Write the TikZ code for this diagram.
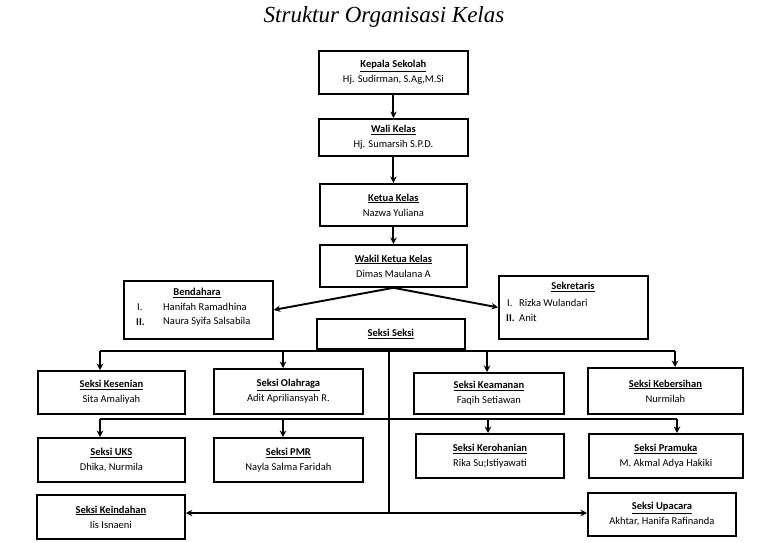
\documentclass[tikz,border=0pt]{standalone}
\usepackage{fontspec}
\setmainfont{Carlito}
\newfontfamily\titlefont{Liberation Serif}
\usetikzlibrary{arrows.meta}
\newcommand\hd[1]{\textbf{\underline{#1}}}
\begin{document}
\begin{tikzpicture}[x=1pt,y=-1pt,
  box/.style={draw, line width=1.8pt, fill=white, anchor=north west, inner sep=0pt,
    align=center, font=\fontsize{10.5}{15}\selectfont},
  txt/.style={inner sep=0pt, font=\fontsize{10.5}{12}\selectfont},
  conn/.style={line width=1.9pt},
  arr/.style={line width=1.9pt, -{Stealth[length=6.5pt,width=6.5pt]}},
]
\useasboundingbox (0,0) rectangle (768,543);
\node[font=\titlefont\itshape\fontsize{23}{23}\selectfont] (title) at (384,17) {Struktur Organisasi Kelas};

% main column
\node[box, minimum width=149pt, minimum height=43pt] (kepala) at (318,50) {\hd{Kepala Sekolah}\\Hj. Sudirman, S.Ag,M.Si};
\node[box, minimum width=149pt, minimum height=37pt] (wali) at (318,118) {\hd{Wali Kelas}\\Hj. Sumarsih S.P.D.};
\node[box, minimum width=147pt, minimum height=42pt] (ketua) at (319,183) {\hd{Ketua Kelas}\\Nazwa Yuliana};
\node[box, minimum width=147pt, minimum height=42pt] (wakil) at (319,244) {\hd{Wakil Ketua Kelas}\\Dimas Maulana A};

% bendahara / sekretaris
\node[box, minimum width=149pt, minimum height=58pt] (bendahara) at (123,280) {};
\node[txt] (bendh) at (197,293) {\hd{Bendahara}};
\node[txt, anchor=west] (bend1n) at (137,307) {I.};
\node[txt, anchor=west] (bend1) at (163,307) {Hanifah Ramadhina};
\node[txt, anchor=west] (bend2n) at (136,322) {\textbf{II.}};
\node[txt, anchor=west] (bend2) at (163,322) {Naura Syifa Salsabila};

\node[box, minimum width=149pt, minimum height=63pt] (sekretaris) at (498,275) {};
\node[txt] (sekh) at (573,287) {\hd{Sekretaris}};
\node[txt, anchor=west] (sek1n) at (507,303) {I.};
\node[txt, anchor=west] (sek1) at (519,303) {Rizka Wulandari};
\node[txt, anchor=west] (sek2n) at (506,318) {\textbf{II.}};
\node[txt, anchor=west] (sek2) at (519,318) {Anit};

\node[box, minimum width=148pt, minimum height=30pt] (seksi) at (316,318) {\hd{Seksi Seksi}};

% row 1
\node[box, minimum width=147pt, minimum height=43pt] (kesenian) at (37,370) {\hd{Seksi Kesenian}\\Sita Amaliyah};
\node[box, minimum width=149pt, minimum height=45pt] (olahraga) at (213,368) {\hd{Seksi Olahraga}\\Adit Apriliansyah R.};
\node[box, minimum width=150pt, minimum height=41pt] (keamanan) at (413,372) {\hd{Seksi Keamanan}\\Faqih Setiawan};
\node[box, minimum width=155pt, minimum height=46pt] (kebersihan) at (587,367) {\hd{Seksi Kebersihan}\\Nurmilah};

% row 2
\node[box, minimum width=147pt, minimum height=44pt] (uks) at (37,437) {\hd{Seksi UKS}\\Dhika, Nurmila};
\node[box, minimum width=149pt, minimum height=44pt] (pmr) at (213,437) {\hd{Seksi PMR}\\Nayla Salma Faridah};
\node[box, minimum width=148pt, minimum height=44pt] (kerohanian) at (415,433) {\hd{Seksi Kerohanian}\\Rika Su;Istiyawati};
\node[box, minimum width=154pt, minimum height=44pt] (pramuka) at (588,433) {\hd{Seksi Pramuka}\\M. Akmal Adya Hakiki};

% row 3
\node[box, minimum width=148pt, minimum height=44pt] (keindahan) at (36,494) {\hd{Seksi Keindahan}\\Iis Isnaeni};
\node[box, minimum width=148pt, minimum height=43pt] (upacara) at (587,492) {\hd{Seksi Upacara}\\Akhtar, Hanifa Rafinanda};

% connectors main column
\draw[arr] (kepala.south) -- (wali.north);
\draw[arr] (wali.south) -- (ketua.north);
\draw[arr] (ketua.south) -- (wakil.north);
\draw[arr] (wakil.south) -- (bendahara.east);
\draw[arr] (wakil.south) -- (sekretaris.west);

% buses
\coordinate (b1a) at (100,351);
\coordinate (b1b) at (283,351);
\coordinate (b1c) at (487,351);
\coordinate (b1d) at (675,351);
\coordinate (b2a) at (100,419);
\coordinate (b2b) at (283,419);
\coordinate (b2c) at (488,419);
\coordinate (b2d) at (677,419);
\coordinate (trunk) at (389,513);

\draw[conn] (b1a) -- (b1d);
\draw[conn] (b2a) -- (b2d);
\draw[conn] (seksi.south -| trunk) -- (trunk);
\draw[arr] (trunk) -- (trunk -| keindahan.east);
\draw[arr] (trunk) -- (trunk -| upacara.west);

\draw[arr] (b1a) -- (b1a |- kesenian.north);
\draw[arr] (b1b) -- (b1b |- olahraga.north);
\draw[arr] (b1c) -- (b1c |- keamanan.north);
\draw[arr] (b1d) -- (b1d |- kebersihan.north);
\draw[arr] (b2a) -- (b2a |- uks.north);
\draw[arr] (b2b) -- (b2b |- pmr.north);
\draw[arr] (b2c) -- (b2c |- kerohanian.north);
\draw[arr] (b2d) -- (b2d |- pramuka.north);
\end{tikzpicture}
\end{document}
